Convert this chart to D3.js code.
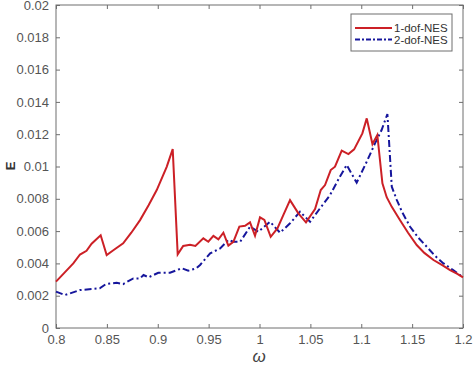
<!DOCTYPE html>
<html lang="en">
<head>
<meta charset="utf-8" />
<script src="https://cdn.jsdelivr.net/npm/d3@7"></script>
<style>
  body { margin: 0; background: #fff; }
  text { font-family: Arial, "Liberation Sans", sans-serif; }
</style>
</head>
<body>
<script>
// 1-dof-NES (red, solid)
var omega1 = [0.8, 0.817, 0.8236, 0.83, 0.835, 0.8439, 0.8498, 0.856, 0.866, 0.874, 0.8826, 0.891, 0.899, 0.9088, 0.9147,
  0.9196, 0.925, 0.9317, 0.937, 0.9448, 0.9497, 0.9547, 0.9596, 0.9645, 0.9694, 0.9743, 0.9802,
  0.9858, 0.9907, 0.9956, 1.0005, 1.0048, 1.011, 1.0176, 1.0235, 1.030, 1.0382, 1.0457, 1.0546,
  1.0602, 1.0644, 1.070, 1.0742, 1.0808, 1.0874, 1.093, 1.1011, 1.1054, 1.111, 1.1158, 1.1208,
  1.125, 1.13, 1.138, 1.146, 1.1545, 1.162, 1.171, 1.18, 1.1873, 1.194, 1.2];
var energy1 = [0.00287, 0.0040, 0.00455, 0.00478, 0.00522, 0.00574, 0.00452, 0.0048, 0.00524, 0.0059, 0.00668, 0.0076, 0.00854, 0.00998, 0.01108,
  0.00456, 0.00508, 0.00516, 0.00508, 0.00555, 0.00534, 0.0057, 0.00549, 0.0059, 0.0051, 0.00534, 0.00628,
  0.00633, 0.00654, 0.00571, 0.00685, 0.00669, 0.00565, 0.00617, 0.0070, 0.00792, 0.0071, 0.00654, 0.00737,
  0.00854, 0.00885, 0.00978, 0.00999, 0.01098, 0.01077, 0.01106, 0.01205, 0.01298, 0.01139, 0.01195, 0.00896,
  0.0081, 0.0075, 0.00669, 0.0059, 0.00514, 0.00465, 0.00421, 0.00388, 0.00359, 0.00336, 0.00314];

// 2-dof-NES (blue, dash-dot)
var omega2 = [0.8, 0.8088, 0.8236, 0.843, 0.849, 0.8597, 0.866, 0.876, 0.8826, 0.886, 0.891, 0.9005,
  0.912, 0.9236, 0.930, 0.938, 0.9416, 0.9515, 0.9613, 0.9694, 0.9743, 0.981, 0.9907, 0.9989,
  1.0104, 1.0202, 1.030, 1.0398, 1.0497, 1.0595, 1.0693, 1.079, 1.0857, 1.0955, 1.1054, 1.1135,
  1.12, 1.1257, 1.13, 1.135, 1.14, 1.148, 1.156, 1.1644, 1.172, 1.1808, 1.19, 1.2];
var energy2 = [0.00225, 0.00204, 0.00235, 0.00246, 0.00272, 0.0028, 0.00272, 0.00307, 0.00307, 0.00328, 0.00314, 0.00342,
  0.00342, 0.0037, 0.00355, 0.0037, 0.0039, 0.00462, 0.00493, 0.00545, 0.00534, 0.00534, 0.00627, 0.00596,
  0.00658, 0.0059, 0.00648, 0.0072, 0.00658, 0.00741, 0.00823, 0.00937, 0.01009, 0.0090, 0.0103, 0.01143,
  0.01226, 0.01325, 0.00875, 0.00792, 0.0072, 0.00627, 0.0056, 0.00503, 0.0045, 0.0040, 0.0036, 0.00314];

var xTicks = [0.8, 0.85, 0.9, 0.95, 1, 1.05, 1.1, 1.15, 1.2];
var yTicks = [0, 0.002, 0.004, 0.006, 0.008, 0.01, 0.012, 0.014, 0.016, 0.018, 0.02];
var seriesNames = ["1-dof-NES", "2-dof-NES"];

var w = 474, h = 368;
var plotLeft = 56, plotRight = 463, plotTop = 5, plotBottom = 328;
var axisColor = "#6e6e6e";
var red = "#cc2026", blue = "#16169c";

var svg = d3.select("body").append("svg").attr("width", w).attr("height", h);

var x = d3.scaleLinear().domain([0.8, 1.2]).range([plotLeft, plotRight]);
var y = d3.scaleLinear().domain([0, 0.02]).range([plotBottom, plotTop]);

function styleAxis(g) {
  g.select(".domain").remove();
  g.selectAll(".tick line").attr("stroke", axisColor);
  g.selectAll(".tick text").attr("fill", "#555").attr("font-size", "13px");
}

// bottom / left axes with labels, ticks pointing in
svg.append("g").attr("transform", "translate(0," + plotBottom + ")")
  .call(d3.axisBottom(x).tickValues(xTicks).tickSize(-4).tickPadding(7).tickFormat(d3.format("")))
  .call(styleAxis);
svg.append("g").attr("transform", "translate(" + plotLeft + ",0)")
  .call(d3.axisLeft(y).tickValues(yTicks).tickSize(-4).tickPadding(7).tickFormat(d3.format("")))
  .call(styleAxis);
// top / right mirrored ticks
svg.append("g").attr("transform", "translate(0," + plotTop + ")")
  .call(d3.axisTop(x).tickValues(xTicks).tickSize(-4).tickFormat(""))
  .call(styleAxis);
svg.append("g").attr("transform", "translate(" + plotRight + ",0)")
  .call(d3.axisRight(y).tickValues(yTicks).tickSize(-4).tickFormat(""))
  .call(styleAxis);

svg.append("rect").attr("x", plotLeft).attr("y", plotTop)
  .attr("width", plotRight - plotLeft).attr("height", plotBottom - plotTop)
  .attr("fill", "none").attr("stroke", axisColor).attr("stroke-width", 1);

var line = d3.line().x(function(d) { return x(d[0]); }).y(function(d) { return y(d[1]); });

svg.append("path").datum(d3.zip(omega2, energy2))
  .attr("d", line).attr("fill", "none").attr("stroke", blue)
  .attr("stroke-width", 2).attr("stroke-dasharray", "7,3,2,3");

svg.append("path").datum(d3.zip(omega1, energy1))
  .attr("d", line).attr("fill", "none").attr("stroke", red)
  .attr("stroke-width", 2);

// axis labels
svg.append("text").attr("x", 259).attr("y", 362).attr("text-anchor", "middle")
  .attr("font-size", "17px").attr("font-style", "italic").attr("fill", "#444").text("ω");
svg.append("text").attr("transform", "translate(15,166) rotate(-90)")
  .attr("text-anchor", "middle").attr("font-size", "13px").attr("font-weight", "bold")
  .attr("fill", "#333").text("E");

// legend
var lg = svg.append("g");
lg.append("rect").attr("x", 351).attr("y", 14).attr("width", 101).attr("height", 37)
  .attr("fill", "#fff").attr("stroke", axisColor);
var legendColors = [red, blue], legendDash = [null, "5,2,2,2"];
seriesNames.forEach(function(name, i) {
  var ly = 28 + i * 11.5;
  lg.append("line").attr("x1", 355).attr("x2", 392).attr("y1", ly).attr("y2", ly)
    .attr("stroke", legendColors[i]).attr("stroke-width", 2)
    .attr("stroke-dasharray", legendDash[i]);
  lg.append("text").attr("x", 394).attr("y", ly + 4).attr("font-size", "11.5px")
    .attr("fill", "#333").text(name);
});
</script>
</body>
</html>
